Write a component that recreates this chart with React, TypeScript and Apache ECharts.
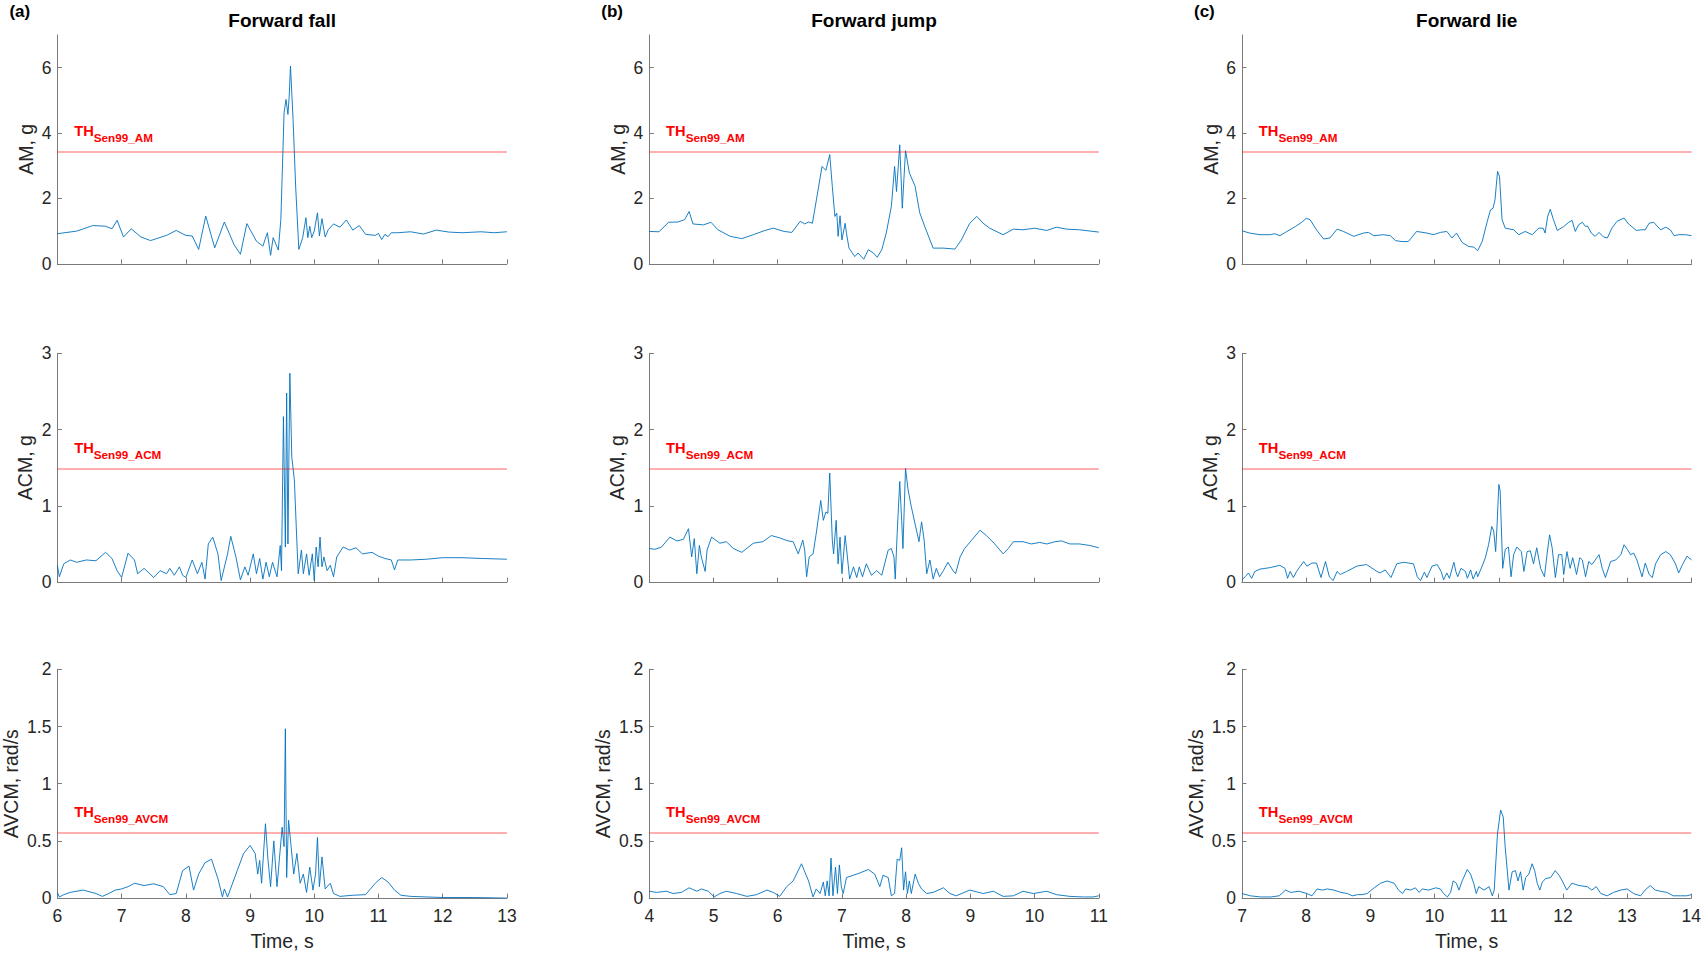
import { useEffect, useRef } from 'react';
import * as echarts from 'echarts';

const FONT = '"Liberation Sans", Arial, Helvetica, sans-serif';
const INK = '#262626';
const AXIS_GREY = '#7a7a7a';
const SIGNAL_BLUE = '#0072BD';
const TH_RED = '#ff0000';

// layout in page pixels
const COL_LEFT = [57.4, 649.3, 1242];
const ROW_TOP = [35, 353.3, 669.3];
const GRID_W = 449.5;
const GRID_H = 228.8;

const TITLES = ['Forward fall', 'Forward jump', 'Forward lie'];
const PANEL_TAGS = ['(a)', '(b)', '(c)'];
const TIME_MIN = [6, 4, 7];
const TIME_MAX = [13, 11, 14];

const Y_NAMES = ['AM, g', 'ACM, g', 'AVCM, rad/s'];
const Y_MAX = [7, 3, 2];
const Y_TICKS = [
  [0, 2, 4, 6],
  [0, 1, 2, 3],
  [0, 0.5, 1, 1.5, 2],
];
const Y_NAME_GAP = [21, 22, 36];
const THRESHOLDS = [3.42, 1.49, 0.57];
const TH_SUBS = ['Sen99_AM', 'Sen99_ACM', 'Sen99_AVCM'];

type Pt = [number, number];

// (a) Forward fall
const fallAM: Pt[] = [
  [6.0, 0.92], [6.15, 0.96], [6.3, 1.0], [6.45, 1.1], [6.55, 1.17], [6.75, 1.15], [6.85, 1.07], [6.93, 1.33],
  [7.03, 0.82], [7.15, 1.07], [7.3, 0.82], [7.45, 0.71], [7.7, 0.87], [7.85, 1.02], [8.0, 0.87], [8.1, 0.85],
  [8.2, 0.44], [8.31, 1.46], [8.45, 0.49], [8.6, 1.28], [8.75, 0.59], [8.85, 0.29], [8.95, 1.23], [9.1, 0.69],
  [9.2, 0.54], [9.27, 0.95], [9.32, 0.26], [9.36, 0.8], [9.44, 0.42], [9.48, 1.36], [9.53, 4.62], [9.56, 5.03],
  [9.59, 4.57], [9.61, 5.13], [9.63, 6.05], [9.67, 4.42], [9.71, 2.38], [9.76, 0.44], [9.82, 0.8], [9.87, 1.41],
  [9.9, 0.8], [9.93, 1.15], [9.96, 0.8], [10.0, 1.0], [10.05, 1.56], [10.08, 0.85], [10.12, 1.38], [10.17, 0.82],
  [10.22, 1.05], [10.3, 1.22], [10.4, 1.12], [10.5, 1.34], [10.6, 1.03], [10.7, 1.17], [10.8, 0.9], [10.95, 0.87],
  [11.0, 0.93], [11.05, 0.74], [11.1, 0.9], [11.15, 0.83], [11.2, 0.95], [11.3, 0.95], [11.5, 0.98], [11.7, 0.91],
  [11.9, 1.03], [12.1, 0.97], [12.3, 0.95], [12.6, 0.98], [12.8, 0.95], [13.0, 0.98],
];
const fallACM: Pt[] = [
  [6.0, 0.22], [6.03, 0.07], [6.1, 0.24], [6.2, 0.29], [6.3, 0.26], [6.45, 0.29], [6.6, 0.28], [6.75, 0.39],
  [6.85, 0.31], [6.93, 0.15], [7.0, 0.06], [7.1, 0.38], [7.2, 0.29], [7.25, 0.11], [7.35, 0.18], [7.5, 0.06],
  [7.6, 0.15], [7.7, 0.11], [7.75, 0.18], [7.82, 0.09], [7.9, 0.2], [7.95, 0.09], [8.0, 0.06], [8.1, 0.29],
  [8.18, 0.11], [8.25, 0.26], [8.3, 0.04], [8.35, 0.5], [8.42, 0.59], [8.5, 0.37], [8.55, 0.02], [8.65, 0.37],
  [8.7, 0.6], [8.78, 0.33], [8.85, 0.03], [8.92, 0.2], [8.97, 0.09], [9.05, 0.37], [9.1, 0.11], [9.15, 0.31],
  [9.2, 0.04], [9.25, 0.26], [9.3, 0.07], [9.35, 0.26], [9.42, 0.07], [9.47, 0.48], [9.49, 0.15], [9.52, 2.17],
  [9.55, 0.46], [9.57, 2.48], [9.59, 0.5], [9.62, 2.74], [9.65, 1.64], [9.69, 1.34], [9.72, 0.72], [9.75, 0.11],
  [9.8, 0.42], [9.83, 0.11], [9.88, 0.37], [9.92, 0.09], [9.97, 0.37], [10.0, 0.02], [10.03, 0.46], [10.06, 0.2],
  [10.09, 0.59], [10.12, 0.2], [10.15, 0.33], [10.2, 0.15], [10.25, 0.22], [10.3, 0.07], [10.35, 0.33], [10.45, 0.46],
  [10.55, 0.42], [10.65, 0.45], [10.75, 0.37], [10.9, 0.39], [11.0, 0.34], [11.1, 0.31], [11.2, 0.29], [11.25, 0.16],
  [11.3, 0.29], [11.5, 0.29], [11.75, 0.3], [12.0, 0.32], [12.3, 0.32], [12.6, 0.31], [13.0, 0.3],
];
const fallAVCM: Pt[] = [
  [6.0, 0.05], [6.03, 0.01], [6.1, 0.03], [6.2, 0.05], [6.4, 0.07], [6.6, 0.04], [6.7, 0.015], [6.8, 0.04],
  [6.9, 0.07], [7.0, 0.08], [7.1, 0.1], [7.2, 0.13], [7.35, 0.11], [7.5, 0.125], [7.65, 0.1], [7.75, 0.03],
  [7.85, 0.04], [7.95, 0.24], [8.05, 0.28], [8.12, 0.07], [8.2, 0.21], [8.3, 0.31], [8.4, 0.34], [8.5, 0.17],
  [8.57, 0.01], [8.6, 0.08], [8.65, 0.01], [8.8, 0.24], [8.9, 0.39], [9.0, 0.46], [9.08, 0.39], [9.12, 0.21],
  [9.15, 0.33], [9.18, 0.13], [9.24, 0.65], [9.28, 0.33], [9.32, 0.1], [9.37, 0.5], [9.42, 0.1], [9.5, 0.62],
  [9.53, 0.45], [9.55, 1.48], [9.57, 0.18], [9.6, 0.68], [9.64, 0.45], [9.68, 0.21], [9.73, 0.39], [9.78, 0.13],
  [9.83, 0.21], [9.88, 0.05], [9.93, 0.27], [9.98, 0.07], [10.02, 0.21], [10.05, 0.53], [10.08, 0.1], [10.12, 0.36],
  [10.17, 0.08], [10.25, 0.13], [10.3, 0.04], [10.4, 0.015], [10.6, 0.025], [10.8, 0.03], [10.95, 0.13], [11.05, 0.18],
  [11.15, 0.14], [11.25, 0.07], [11.35, 0.025], [11.5, 0.015], [12.0, 0.005], [12.5, 0.005], [13.0, 0.0],
];

// (b) Forward jump
const jumpAM: Pt[] = [
  [4.0, 0.99], [4.15, 0.98], [4.3, 1.27], [4.45, 1.28], [4.55, 1.35], [4.62, 1.6], [4.68, 1.22], [4.84, 1.19],
  [4.96, 1.27], [5.07, 1.04], [5.26, 0.84], [5.44, 0.77], [5.62, 0.89], [5.8, 1.02], [5.93, 1.09], [6.1, 0.99],
  [6.22, 0.96], [6.35, 1.3], [6.42, 1.22], [6.48, 1.28], [6.54, 1.24], [6.62, 2.16], [6.69, 2.98], [6.75, 2.86],
  [6.81, 3.34], [6.85, 2.37], [6.89, 1.45], [6.92, 1.55], [6.94, 0.84], [6.97, 1.47], [7.0, 0.73], [7.05, 1.24],
  [7.07, 0.94], [7.11, 0.48], [7.2, 0.22], [7.25, 0.33], [7.34, 0.14], [7.41, 0.43], [7.49, 0.33], [7.55, 0.2],
  [7.62, 0.43], [7.69, 0.94], [7.77, 1.76], [7.82, 2.98], [7.85, 2.21], [7.9, 3.64], [7.94, 1.7], [7.99, 3.46],
  [8.05, 2.78], [8.14, 2.37], [8.21, 1.57], [8.29, 1.14], [8.42, 0.48], [8.58, 0.48], [8.76, 0.45], [8.86, 0.73],
  [8.99, 1.24], [9.1, 1.45], [9.2, 1.24], [9.3, 1.09], [9.51, 0.89], [9.67, 1.06], [9.82, 1.04], [10.0, 1.09],
  [10.19, 1.02], [10.34, 1.12], [10.5, 1.06], [10.7, 1.04], [11.0, 0.97],
];
const jumpACM: Pt[] = [
  [4.0, 0.44], [4.09, 0.43], [4.19, 0.46], [4.32, 0.59], [4.43, 0.54], [4.53, 0.56], [4.61, 0.7], [4.66, 0.33],
  [4.7, 0.57], [4.74, 0.11], [4.78, 0.48], [4.81, 0.33], [4.87, 0.14], [4.9, 0.42], [4.97, 0.59], [5.1, 0.51],
  [5.2, 0.53], [5.31, 0.44], [5.44, 0.39], [5.62, 0.51], [5.77, 0.53], [5.9, 0.61], [6.03, 0.58], [6.16, 0.54],
  [6.24, 0.53], [6.32, 0.37], [6.39, 0.55], [6.42, 0.42], [6.45, 0.07], [6.49, 0.33], [6.55, 0.37], [6.6, 0.64],
  [6.67, 1.07], [6.71, 0.81], [6.75, 0.92], [6.78, 0.9], [6.81, 1.43], [6.85, 0.55], [6.87, 0.37], [6.91, 0.81],
  [6.94, 0.24], [6.97, 0.59], [7.0, 0.11], [7.05, 0.61], [7.08, 0.37], [7.12, 0.04], [7.18, 0.2], [7.23, 0.06],
  [7.27, 0.2], [7.32, 0.07], [7.38, 0.24], [7.46, 0.09], [7.54, 0.15], [7.62, 0.09], [7.72, 0.42], [7.77, 0.44],
  [7.81, 0.33], [7.83, 0.04], [7.86, 0.64], [7.9, 1.32], [7.93, 0.81], [7.95, 0.44], [7.99, 1.49], [8.03, 1.21],
  [8.08, 0.99], [8.15, 0.72], [8.2, 0.53], [8.24, 0.79], [8.28, 0.55], [8.32, 0.11], [8.37, 0.29], [8.42, 0.04],
  [8.47, 0.18], [8.52, 0.07], [8.58, 0.15], [8.65, 0.26], [8.73, 0.15], [8.77, 0.11], [8.84, 0.33], [8.91, 0.44],
  [9.02, 0.55], [9.15, 0.68], [9.25, 0.61], [9.38, 0.5], [9.51, 0.37], [9.59, 0.44], [9.67, 0.53], [9.82, 0.53],
  [9.95, 0.5], [10.08, 0.52], [10.19, 0.5], [10.32, 0.53], [10.42, 0.54], [10.55, 0.5], [10.7, 0.5], [10.86, 0.48],
  [11.0, 0.45],
];
const jumpAVCM: Pt[] = [
  [4.0, 0.06], [4.11, 0.05], [4.27, 0.06], [4.37, 0.04], [4.5, 0.05], [4.62, 0.09], [4.74, 0.06], [4.81, 0.08],
  [4.92, 0.06], [5.01, 0.01], [5.1, 0.04], [5.2, 0.06], [5.36, 0.04], [5.52, 0.015], [5.67, 0.03], [5.83, 0.07],
  [5.93, 0.05], [6.03, 0.015], [6.14, 0.1], [6.24, 0.15], [6.37, 0.3], [6.48, 0.15], [6.55, 0.01], [6.6, 0.08],
  [6.66, 0.04], [6.71, 0.14], [6.74, 0.02], [6.77, 0.15], [6.8, 0.02], [6.83, 0.35], [6.86, 0.02], [6.9, 0.27],
  [6.93, 0.04], [6.96, 0.29], [6.99, 0.1], [7.02, 0.04], [7.07, 0.18], [7.18, 0.2], [7.28, 0.22], [7.41, 0.25],
  [7.51, 0.21], [7.59, 0.1], [7.64, 0.2], [7.72, 0.18], [7.77, 0.02], [7.82, 0.04], [7.86, 0.34], [7.9, 0.33],
  [7.93, 0.44], [7.96, 0.07], [7.99, 0.23], [8.02, 0.04], [8.05, 0.15], [8.08, 0.04], [8.14, 0.21], [8.19, 0.13],
  [8.24, 0.08], [8.32, 0.04], [8.42, 0.05], [8.58, 0.09], [8.68, 0.04], [8.78, 0.02], [8.99, 0.07], [9.2, 0.04],
  [9.36, 0.06], [9.51, 0.015], [9.67, 0.02], [9.82, 0.06], [9.98, 0.04], [10.19, 0.06], [10.34, 0.03], [10.55, 0.015],
  [10.76, 0.01], [10.91, 0.01], [11.0, 0.02],
];

// (c) Forward lie
const lieAM: Pt[] = [
  [7.0, 1.01], [7.12, 0.94], [7.28, 0.89], [7.44, 0.89], [7.51, 0.92], [7.59, 0.86], [7.7, 0.99], [7.83, 1.14],
  [7.93, 1.27], [8.0, 1.39], [8.06, 1.35], [8.16, 1.04], [8.27, 0.76], [8.37, 0.79], [8.48, 1.06], [8.58, 0.99],
  [8.74, 0.84], [8.89, 0.94], [8.97, 0.96], [9.05, 0.86], [9.2, 0.89], [9.31, 0.86], [9.39, 0.71], [9.49, 0.68],
  [9.59, 0.68], [9.72, 0.99], [9.88, 0.94], [9.98, 0.89], [10.09, 0.96], [10.19, 0.99], [10.27, 0.79], [10.34, 0.94],
  [10.43, 0.65], [10.53, 0.53], [10.61, 0.51], [10.67, 0.4], [10.74, 0.68], [10.82, 1.3], [10.87, 1.65], [10.91, 1.7],
  [10.94, 1.96], [10.98, 2.83], [11.01, 2.67], [11.05, 1.35], [11.1, 1.09], [11.23, 1.04], [11.31, 0.89], [11.41, 0.99],
  [11.52, 0.89], [11.62, 1.09], [11.69, 1.09], [11.72, 0.94], [11.76, 1.45], [11.8, 1.67], [11.85, 1.35], [11.91, 1.02],
  [12.01, 1.14], [12.09, 1.27], [12.14, 1.33], [12.19, 0.99], [12.24, 1.19], [12.3, 1.27], [12.35, 1.14], [12.38, 1.16],
  [12.44, 0.94], [12.5, 0.84], [12.56, 0.96], [12.63, 0.82], [12.69, 0.79], [12.76, 1.09], [12.84, 1.3], [12.95, 1.4],
  [13.02, 1.22], [13.1, 1.09], [13.14, 1.02], [13.21, 1.04], [13.28, 1.04], [13.34, 1.24], [13.41, 1.27], [13.52, 1.04],
  [13.6, 1.12], [13.67, 1.04], [13.73, 0.86], [13.8, 0.89], [13.91, 0.89], [14.0, 0.86],
];
const lieACM: Pt[] = [
  [7.0, 0.03], [7.05, 0.07], [7.1, 0.12], [7.15, 0.05], [7.2, 0.14], [7.28, 0.17], [7.44, 0.19], [7.59, 0.22],
  [7.67, 0.18], [7.71, 0.05], [7.75, 0.14], [7.8, 0.06], [7.85, 0.14], [7.96, 0.27], [8.01, 0.21], [8.09, 0.25],
  [8.16, 0.25], [8.23, 0.06], [8.3, 0.27], [8.36, 0.07], [8.42, 0.02], [8.48, 0.14], [8.53, 0.1], [8.63, 0.14],
  [8.79, 0.21], [8.94, 0.23], [9.1, 0.14], [9.15, 0.12], [9.23, 0.16], [9.32, 0.06], [9.41, 0.24], [9.52, 0.26],
  [9.67, 0.24], [9.73, 0.07], [9.78, 0.02], [9.84, 0.13], [9.88, 0.06], [9.96, 0.21], [10.04, 0.23], [10.1, 0.14],
  [10.14, 0.03], [10.19, 0.12], [10.23, 0.05], [10.3, 0.26], [10.33, 0.14], [10.36, 0.07], [10.41, 0.18], [10.48, 0.14],
  [10.51, 0.05], [10.56, 0.16], [10.6, 0.04], [10.65, 0.14], [10.67, 0.07], [10.74, 0.21], [10.79, 0.32], [10.84, 0.49],
  [10.89, 0.73], [10.92, 0.67], [10.95, 0.4], [10.97, 0.71], [11.0, 1.28], [11.02, 1.2], [11.06, 0.18], [11.1, 0.43],
  [11.15, 0.46], [11.19, 0.07], [11.23, 0.36], [11.28, 0.46], [11.35, 0.4], [11.39, 0.14], [11.44, 0.4], [11.49, 0.41],
  [11.54, 0.24], [11.59, 0.45], [11.65, 0.18], [11.71, 0.07], [11.75, 0.36], [11.79, 0.62], [11.83, 0.45], [11.88, 0.06],
  [11.93, 0.36], [11.98, 0.36], [12.01, 0.1], [12.06, 0.4], [12.11, 0.18], [12.15, 0.32], [12.21, 0.1], [12.26, 0.32],
  [12.3, 0.29], [12.35, 0.07], [12.4, 0.27], [12.45, 0.23], [12.56, 0.36], [12.61, 0.18], [12.66, 0.06], [12.74, 0.27],
  [12.82, 0.29], [12.9, 0.36], [12.95, 0.49], [13.0, 0.43], [13.05, 0.36], [13.1, 0.38], [13.15, 0.29], [13.23, 0.07],
  [13.28, 0.25], [13.34, 0.1], [13.39, 0.06], [13.44, 0.24], [13.52, 0.36], [13.6, 0.4], [13.67, 0.36], [13.75, 0.24],
  [13.8, 0.12], [13.86, 0.23], [13.93, 0.34], [14.0, 0.29],
];
const lieAVCM: Pt[] = [
  [7.0, 0.04], [7.13, 0.02], [7.29, 0.01], [7.45, 0.01], [7.58, 0.02], [7.68, 0.07], [7.76, 0.05], [7.89, 0.06],
  [8.01, 0.04], [8.09, 0.02], [8.17, 0.08], [8.25, 0.07], [8.33, 0.08], [8.43, 0.07], [8.54, 0.05], [8.64, 0.04],
  [8.72, 0.02], [8.8, 0.03], [8.87, 0.03], [8.95, 0.04], [9.06, 0.09], [9.16, 0.13], [9.26, 0.15], [9.37, 0.13],
  [9.44, 0.07], [9.5, 0.04], [9.55, 0.08], [9.63, 0.07], [9.7, 0.09], [9.76, 0.05], [9.81, 0.08], [9.91, 0.07],
  [10.02, 0.09], [10.09, 0.08], [10.14, 0.04], [10.2, 0.01], [10.25, 0.05], [10.29, 0.15], [10.34, 0.13], [10.38, 0.07],
  [10.43, 0.15], [10.51, 0.25], [10.56, 0.21], [10.61, 0.13], [10.65, 0.04], [10.69, 0.1], [10.77, 0.07], [10.85, 0.1],
  [10.9, 0.02], [10.93, 0.07], [10.98, 0.56], [11.03, 0.77], [11.07, 0.71], [11.1, 0.45], [11.16, 0.07], [11.21, 0.23],
  [11.26, 0.24], [11.3, 0.15], [11.34, 0.23], [11.38, 0.07], [11.42, 0.18], [11.47, 0.21], [11.52, 0.3], [11.56, 0.24],
  [11.6, 0.13], [11.64, 0.07], [11.68, 0.14], [11.73, 0.17], [11.81, 0.18], [11.88, 0.24], [11.94, 0.2], [11.99, 0.15],
  [12.06, 0.07], [12.14, 0.13], [12.25, 0.11], [12.38, 0.1], [12.45, 0.07], [12.52, 0.1], [12.59, 0.04], [12.69, 0.02],
  [12.79, 0.05], [12.9, 0.07], [13.0, 0.08], [13.1, 0.04], [13.21, 0.02], [13.28, 0.07], [13.36, 0.11], [13.44, 0.07],
  [13.52, 0.06], [13.62, 0.05], [13.72, 0.02], [13.83, 0.02], [13.93, 0.02], [14.0, 0.03],
];

// rows: AM, ACM, AVCM; columns: fall, jump, lie
const SIGNALS: Pt[][][] = [
  [fallAM, jumpAM, lieAM],
  [fallACM, jumpACM, lieACM],
  [fallAVCM, jumpAVCM, lieAVCM],
];

const TICK_SIZE = 17.5;
const NAME_SIZE = 19.5;
const TH_SIZE = 14.7;
const SUB_SIZE = 11.7;

export default function App() {
  const ref = useRef<HTMLDivElement | null>(null);

  useEffect(() => {
    document.body.style.margin = '0';
    document.body.style.overflow = 'hidden';
    if (!ref.current) return;
    const chart = echarts.init(ref.current, null, { renderer: 'svg' });

    const grid: any[] = [];
    const xAxis: any[] = [];
    const yAxis: any[] = [];
    const series: any[] = [];

    for (let row = 0; row < 3; row++) {
      for (let col = 0; col < 3; col++) {
        const i = grid.length;
        const isBottom = row === 2;
        grid.push({ left: COL_LEFT[col], top: ROW_TOP[row], width: GRID_W, height: GRID_H });
        xAxis.push({
          type: 'value',
          gridIndex: i,
          min: TIME_MIN[col],
          max: TIME_MAX[col],
          interval: 1,
          name: isBottom ? 'Time, s' : '',
          nameLocation: 'middle',
          nameGap: 33,
          nameTextStyle: { color: INK, fontSize: NAME_SIZE, fontFamily: FONT },
          axisLine: { onZero: false, lineStyle: { color: AXIS_GREY, width: 1 } },
          axisTick: { show: true, inside: true, length: 4.5, lineStyle: { color: AXIS_GREY } },
          axisLabel: { show: isBottom, color: INK, fontSize: TICK_SIZE, fontFamily: FONT, margin: 9 },
          splitLine: { show: false },
        });
        yAxis.push({
          type: 'value',
          gridIndex: i,
          min: 0,
          max: Y_MAX[row],
          name: Y_NAMES[row],
          nameLocation: 'middle',
          nameGap: Y_NAME_GAP[row],
          nameTextStyle: { color: INK, fontSize: NAME_SIZE, fontFamily: FONT },
          axisLine: { show: true, onZero: false, lineStyle: { color: AXIS_GREY, width: 1 } },
          axisTick: {
            show: true,
            inside: true,
            length: 4.5,
            customValues: Y_TICKS[row],
            lineStyle: { color: AXIS_GREY },
          },
          axisLabel: {
            color: INK,
            fontSize: TICK_SIZE,
            fontFamily: FONT,
            margin: 6,
            customValues: Y_TICKS[row],
          },
          splitLine: { show: false },
        });
        series.push({
          type: 'line',
          xAxisIndex: i,
          yAxisIndex: i,
          data: SIGNALS[row][col],
          showSymbol: false,
          symbol: 'none',
          sampling: undefined,
          lineStyle: { color: SIGNAL_BLUE, width: 0.9 },
          silent: true,
          markLine: {
            silent: true,
            symbol: 'none',
            label: { show: false },
            lineStyle: { color: 'rgba(255,0,0,0.42)', width: 1.6, type: 'solid' },
            data: [{ yAxis: THRESHOLDS[row] }],
          },
        });
      }
    }

    chart.setOption({
      animation: false,
      grid,
      xAxis,
      yAxis,
      series,
    });

    // threshold labels and titles
    const canvas = document.createElement('canvas');
    const ctx = canvas.getContext('2d');
    let thWidth = 19.6;
    if (ctx) {
      ctx.font = `bold ${TH_SIZE}px ${FONT}`;
      thWidth = ctx.measureText('TH').width;
    }

    const graphic: any[] = [];
    for (let col = 0; col < 3; col++) {
      graphic.push({
        type: 'text',
        x: COL_LEFT[col] + GRID_W / 2,
        y: 20.7,
        style: {
          text: TITLES[col],
          fill: '#000',
          font: `bold 19px ${FONT}`,
          align: 'center',
          verticalAlign: 'middle',
        },
      });
      graphic.push({
        type: 'text',
        x: COL_LEFT[col] - 48,
        y: 11,
        style: {
          text: PANEL_TAGS[col],
          fill: '#000',
          font: `bold 17px ${FONT}`,
          align: 'left',
          verticalAlign: 'middle',
        },
      });
    }
    for (let row = 0; row < 3; row++) {
      for (let col = 0; col < 3; col++) {
        const i = row * 3 + col;
        const p = chart.convertToPixel({ xAxisIndex: i, yAxisIndex: i }, [TIME_MIN[col], THRESHOLDS[row]]) as number[];
        const x0 = p[0] + 16.8;
        graphic.push({
          type: 'text',
          x: x0,
          y: p[1] - 20.8,
          style: {
            text: 'TH',
            fill: TH_RED,
            font: `bold ${TH_SIZE}px ${FONT}`,
            align: 'left',
            verticalAlign: 'middle',
          },
        });
        graphic.push({
          type: 'text',
          x: x0 + thWidth,
          y: p[1] - 14.3,
          style: {
            text: TH_SUBS[row],
            fill: TH_RED,
            font: `bold ${SUB_SIZE}px ${FONT}`,
            align: 'left',
            verticalAlign: 'middle',
          },
        });
      }
    }
    chart.setOption({ graphic });

    return () => {
      chart.dispose();
    };
  }, []);

  return <div ref={ref} style={{ width: 1704, height: 955 }} />;
}
